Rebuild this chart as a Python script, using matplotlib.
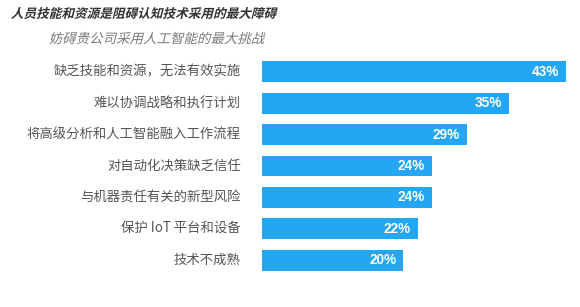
import matplotlib
matplotlib.use("Agg")
import matplotlib.pyplot as plt
from matplotlib.textpath import TextPath
from matplotlib.font_manager import FontProperties
from matplotlib.patches import PathPatch
from matplotlib.transforms import Affine2D

plt.rcParams['font.family'] = ['Noto Sans CJK SC', 'DejaVu Sans']

# 数据
categories = ['缺乏技能和资源，无法有效实施', '难以协调战略和执行计划',
              '将高级分析和人工智能融入工作流程', '对自动化决策缺乏信任',
              '与机器责任有关的新型风险', '保护 IoT 平台和设备', '技术不成熟']
values = [43, 35, 29, 24, 24, 22, 20]
title = '人员技能和资源是阻碍认知技术采用的最大障碍'
subtitle = '妨碍贵公司采用人工智能的最大挑战'

W, H = 580, 307
DPI = 100
fig = plt.figure(figsize=(W / DPI, H / DPI), dpi=DPI)
# 条形区域 x 262..566 对应 0..43
ax = fig.add_axes([262 / W, 1 - 276 / H, (566 - 262) / W, (276 - 56) / H])

bar_color = '#23A7F4'
ypos = list(range(len(values)))
ax.barh(ypos, values, height=0.66, color=bar_color)
ax.set_xlim(0, max(values))
ax.set_ylim(len(values) - 0.5, -0.5)
ax.axis('off')

for y, v, c in zip(ypos, values, categories):
    ax.text(v - 1.0, y, f'{v}%', color='white', ha='right', va='center',
            fontsize=9.8, fontweight='bold', family=['Liberation Sans'])
    ax.text(-3.0, y, c, color='#555555', ha='right', va='center', fontsize=9.6)


def slanted_text(s, x_px, y_px, size_pt, color, weight='normal'):
    # 中文字体没有斜体，用错切变换模拟
    fp = FontProperties(family='Noto Sans CJK SC', weight=weight)
    tp = TextPath((0, 0), s, size=size_pt, prop=fp)
    tr = (Affine2D().translate(0, -size_pt * 0.38).skew_deg(14, 0)
          .scale(DPI / 72.0).translate(x_px, H - y_px))
    fig.add_artist(PathPatch(tp, transform=tr, facecolor=color,
                             edgecolor='none', lw=0))


slanted_text(title, 12, 13, 9.1, '#333333', weight='bold')
slanted_text(subtitle, 50, 38, 9.7, '#7a7a7a')

fig.savefig('out.png', dpi=DPI, facecolor='white')
